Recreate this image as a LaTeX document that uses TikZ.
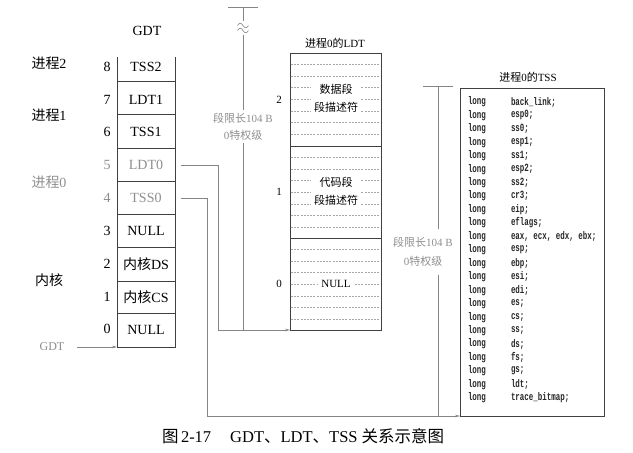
\documentclass[tikz,border=0pt]{standalone}
\usepackage{fontspec}
\setmainfont{Liberation Serif}
\newfontfamily\cjk{Noto Sans CJK SC}
\newfontfamily\tssfont[FakeStretch=0.68]{Liberation Mono}
\usetikzlibrary{arrows.meta}
\definecolor{linegray}{HTML}{858585}
\definecolor{txtgray}{HTML}{8E8E8E}
\definecolor{boxline}{HTML}{404040}
\definecolor{dashgray}{HTML}{A8A8A8}
\begin{document}
\begin{tikzpicture}[x=1pt,y=-1pt,
  every node/.style={inner sep=0pt, outer sep=0pt},
  cell/.style={minimum width=58pt, font=\fontsize{14}{16}\selectfont},
  idx/.style={font=\fontsize{14}{16}\selectfont},
  side/.style={font=\fontsize{14}{16}\selectfont},
  gtxt/.style={text=txtgray},
  box/.style={draw=boxline, line width=0.8pt},
  conn/.style={draw=linegray, line width=0.6pt},
  arr/.style={conn, -{Stealth[length=5pt, width=2.6pt]}},
  dashln/.style={draw=dashgray, line width=0.45pt, dash pattern=on 2pt off 1.2pt},
  ldttxt/.style={font=\fontsize{11}{18}\selectfont\cjk, align=center, fill=white, inner xsep=3pt, inner ysep=1pt},
  ldtidx/.style={font=\fontsize{11}{13}\selectfont},
  title/.style={font=\fontsize{11}{13}\selectfont},
  dimtxt/.style={font=\fontsize{11}{17}\selectfont, text=txtgray, align=center, inner ysep=3pt},
  dim/.style={draw=linegray, line width=0.6pt},
  tssl/.style={font=\fontsize{11}{12}\selectfont\tssfont\bfseries, text=black!85, anchor=west},
]
\useasboundingbox (0,0) rectangle (633,453);

% ---------- GDT ----------
\node[side] (gdtt) at (147,31) {GDT};
\draw[box] (117,57) -- (117,347) -- (175,347) -- (175,57);
\foreach \yy in {81,114,148,181,214,247,281,313}
  \draw[box] (117,\yy) -- (175,\yy);

\node[cell] (g8) at (146,67) {TSS2};
\node[cell] (g7) at (146,100) {LDT1};
\node[cell] (g6) at (146,132) {TSS1};
\node[cell,gtxt] (g5) at (146,165) {LDT0};
\node[cell,gtxt] (g4) at (146,198) {TSS0};
\node[cell] (g3) at (146,231) {NULL};
\node[cell] (g2) at (146,264) {{\cjk 内核}DS};
\node[cell] (g1) at (146,297) {{\cjk 内核}CS};
\node[cell] (g0) at (146,330) {NULL};

\node[idx] (n8) at (107,67) {8};
\node[idx] (n7) at (107,100) {7};
\node[idx] (n6) at (107,132) {6};
\node[idx,gtxt] (n5) at (107,165) {5};
\node[idx,gtxt] (n4) at (107,198) {4};
\node[idx] (n3) at (107,231) {3};
\node[idx] (n2) at (107,264) {2};
\node[idx] (n1) at (107,297) {1};
\node[idx] (n0) at (107,329) {0};

\node[side] (p2) at (49,63) {{\cjk 进程}2};
\node[side] (p1) at (49,115) {{\cjk 进程}1};
\node[side,gtxt] (p0) at (49,182) {{\cjk 进程}0};
\node[side] (kern) at (49,280) {\cjk 内核};

\node[font=\fontsize{12}{14}\selectfont, gtxt] (gdtl) at (52,347) {GDT};
\coordinate (gdtbase) at (117,347);
\draw[arr] ([xshift=13pt]gdtl.east) -- (gdtbase);

% ---------- LDT ----------
\node[title] (ldtt) at (335,43) {{\cjk 进程}0{\cjk 的}LDT};
\foreach \s in {53,146,238}
  \foreach \k in {1,...,7}
    \draw[dashln] (291,{\s+11.55*\k}) -- (380,{\s+11.55*\k});
\node[box, anchor=north west, minimum width=91pt, minimum height=277pt] (ldt) at (290,53) {};
\draw[box] (290,146) -- (381,146);
\draw[box] (290,238) -- (381,238);
\node[ldttxt] (dseg) at (336,98) {数据段\\段描述符};
\node[ldttxt] (cseg) at (336,191.5) {代码段\\段描述符};
\node[ldttxt, font=\fontsize{11}{13}\selectfont] (nseg) at (336,284) {NULL};
\node[ldtidx] (l2) at (279,100) {2};
\node[ldtidx] (l1) at (279,192) {1};
\node[ldtidx] (l0) at (279,284) {0};

% ---------- LDT limit dimension ----------
\coordinate (top1) at (243,7);
\draw[dim] ([xshift=-15pt]top1) -- ([xshift=15pt]top1);
\draw[dim] (top1) -- (243,21);
\draw[dim] (237.5,25.5) .. controls (239.5,22.5) and (241,22.5) .. (243,25.5)
                        .. controls (245,28.5) and (246.5,28.5) .. (248.5,25.5);
\draw[dim] (237.5,30.5) .. controls (239.5,27.5) and (241,27.5) .. (243,30.5)
                        .. controls (245,33.5) and (246.5,33.5) .. (248.5,30.5);
\node[dimtxt] (dim1) at (243,126.5) {{\cjk 段限长}104 B\\0{\cjk 特权级}};
\draw[dim] (243,35) -- (dim1.north);
\draw[dim] (dim1.south) -- (243,330);

% ---------- TSS ----------
\node[title] (tsst) at (528,77) {{\cjk 进程}0{\cjk 的}TSS};
\node[box, anchor=north west, minimum width=144pt, minimum height=328pt] (tss) at (460,88) {};
\foreach \f [count=\i from 0] in {{back\_link;},{esp0;},{ss0;},{esp1;},{ss1;},{esp2;},{ss2;},{cr3;},{eip;},{eflags;},{eax, ecx, edx, ebx;},{esp;},{ebp;},{esi;},{edi;},{es;},{cs;},{ss;},{ds;},{fs;},{gs;},{ldt;},{trace\_bitmap;}}{
  \node[tssl] (tl\i) at (468,{102+13.45*\i}) {long};
  \node[tssl] (tf\i) at (511,{102+13.45*\i}) {\f};
}

% ---------- TSS limit dimension ----------
\coordinate (top2) at (438,86);
\coordinate (bot2) at (438,416);
\draw[dim] ([xshift=-15pt]top2) -- ([xshift=15pt]top2);
\node[dimtxt, font=\fontsize{11}{19}\selectfont, inner ysep=8pt] (dim2) at (423,252) {{\cjk 段限长}104 B\\0{\cjk 特权级}};
\draw[dim] (top2) -- (top2 |- dim2.north);
\draw[dim] (bot2 |- dim2.south) -- (bot2);

% ---------- connectors ----------
\draw[arr] ([xshift=5.5pt]g5.east) -| (218,330) -- (ldt.south west);
\draw[arr] ([xshift=5.5pt]g4.east) -| (207,416) -- (tss.south west);

% ---------- caption ----------
\node[font=\fontsize{16.5}{18}\selectfont, anchor=west] (cap) at (162,436)
  {{\cjk 图}\hspace{2.5pt}2-17\hspace{19pt}GDT{\cjk 、}LDT{\cjk 、}TSS\hspace{4pt}{\cjk 关系示意图}};
\end{tikzpicture}
\end{document}
